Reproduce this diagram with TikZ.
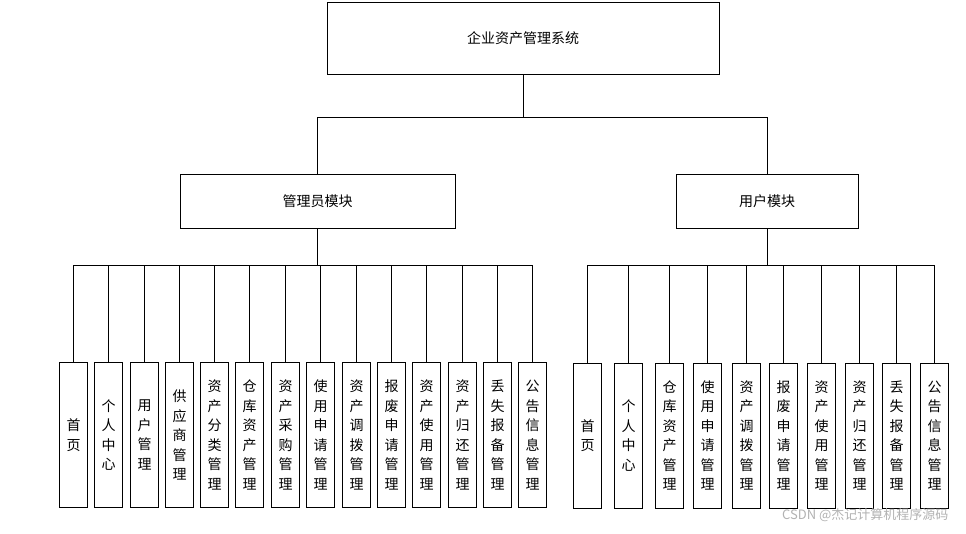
\documentclass[tikz,border=0pt]{standalone}
\usepackage{fontspec}
\setmainfont{Noto Sans CJK SC}
\begin{document}
\begin{tikzpicture}[x=1pt,y=-1pt,
  box/.style={draw,line width=0.8pt,inner sep=0pt,font=\fontsize{14}{16}\selectfont},
  leaf/.style={draw,line width=0.8pt,inner sep=0pt,minimum width=28pt,minimum height=145pt,align=center,font=\fontsize{14}{19.5}\selectfont},
  conn/.style={line width=0.8pt}]
\useasboundingbox (0,0) rectangle (966,533);
\node[box,minimum width=392pt,minimum height=72pt] (root) at (523,38) {企业资产管理系统};
\node[box,minimum width=275pt,minimum height=54pt] (adm) at (317.5,201) {管理员模块};
\node[box,minimum width=182pt,minimum height=54pt] (usr) at (767,201) {用户模块};
\draw[conn] (root.south) -- ++(0,43) coordinate (j0);
\draw[conn] (j0) -| (adm.north);
\draw[conn] (j0) -| (usr.north);
% admin leaves
\foreach \x/\t [count=\i] in {73.5/首\\页, 108.5/个\\人\\中\\心, 144.5/用\\户\\管\\理, 179.5/供\\应\\商\\管\\理,
 214.5/资\\产\\分\\类\\管\\理, 249.5/仓\\库\\资\\产\\管\\理, 285.5/资\\产\\采\\购\\管\\理, 320.5/使\\用\\申\\请\\管\\理,
 356.5/资\\产\\调\\拨\\管\\理, 391.5/报\\废\\申\\请\\管\\理, 426.5/资\\产\\使\\用\\管\\理, 462.5/资\\产\\归\\还\\管\\理,
 497.5/丢\\失\\报\\备\\管\\理, 532.5/公\\告\\信\\息\\管\\理}{
  \node[leaf] (a\i) at (\x,435) {\t};
  \draw[conn] (a\i.north) -- (\x,265);
}
\draw[conn] (adm.south) -- (317.5,265);
\draw[conn] (a1.north |- 0,265) -- (a14.north |- 0,265);
% user leaves
\foreach \x/\t [count=\i] in {587.5/首\\页, 628.5/个\\人\\中\\心, 669.5/仓\\库\\资\\产\\管\\理, 707.5/使\\用\\申\\请\\管\\理,
 746.5/资\\产\\调\\拨\\管\\理, 783.5/报\\废\\申\\请\\管\\理, 821.5/资\\产\\使\\用\\管\\理, 859.5/资\\产\\归\\还\\管\\理,
 896.5/丢\\失\\报\\备\\管\\理, 934.5/公\\告\\信\\息\\管\\理}{
  \node[leaf] (u\i) at (\x,435.5) {\t};
  \draw[conn] (u\i.north) -- (\x,265);
}
\draw[conn] (usr.south) -- (767,265);
\draw[conn] (u1.north |- 0,265) -- (u10.north |- 0,265);
\node[text=gray!60,font=\fontsize{13}{15}\selectfont,anchor=east] (wm) at (952,515) {CSDN @杰记计算机程序源码};
\end{tikzpicture}
\end{document}
